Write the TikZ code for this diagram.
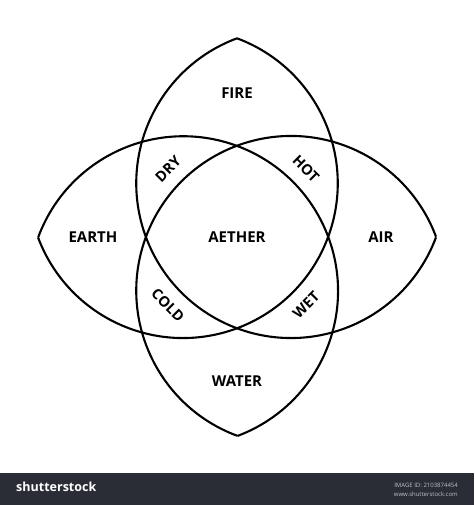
\documentclass[tikz,border=0pt]{standalone}
\usepackage{fontspec}
\setmainfont{Open Sans}
\definecolor{barbg}{RGB}{42,45,54}
\definecolor{bartxt}{RGB}{190,192,197}
\begin{document}
\begin{tikzpicture}[x=1pt,y=-1pt,
  ring/.style={draw=black,line width=2.1pt},
  lbl/.style={font=\fontsize{15}{18}\selectfont\bfseries,inner sep=0pt},
  smalllbl/.style={font=\fontsize{14.5}{17}\selectfont\bfseries,inner sep=0pt}]
\useasboundingbox (0,0) rectangle (474,505);
\fill[white] (0,0) rectangle (474,473);
\def\R{154.73}
% tips of the four lenses
\coordinate (top) at (237,38.3);
\coordinate (bot) at (237,435.7);
\coordinate (lft) at (38.3,237);
\coordinate (rgt) at (435.7,237);
% four circles, each drawn as its major arc between two tips
\draw[ring] (top) arc[start angle=249.57, end angle=20.43, radius=\R];
\draw[ring] (top) arc[start angle=-69.57, end angle=159.57, radius=\R];
\draw[ring] (lft) arc[start angle=200.43, end angle=429.57, radius=\R];
\draw[ring] (bot) arc[start angle=110.43, end angle=339.57, radius=\R];
% labels
\node[lbl] (fire) at (237,93) {FIRE};
\node[lbl] (earth) at (93,237) {EARTH};
\node[lbl] (aether) at (237,237) {AETHER};
\node[lbl] (air) at (381,237) {AIR};
\node[lbl] (water) at (237,381) {WATER};
\node[smalllbl,rotate=45] (dry) at (168,169) {DRY};
\node[smalllbl,rotate=-45] (hot) at (306,169) {HOT};
\node[smalllbl,rotate=-45] (cold) at (168,305) {COLD};
\node[smalllbl,rotate=45] (wet) at (306,305) {WET};
% bottom bar
\fill[barbg] (0,473) rectangle (474,505);
\node[anchor=west,text=white,inner sep=0pt,font=\fontsize{12.5}{14}\selectfont\bfseries] (logo) at (16,487) {shutterstock};
\node[anchor=east,text=bartxt,inner sep=0pt,font=\fontsize{6}{7}\selectfont] (imgid) at (458,485.5) {IMAGE ID: 2103874454};
\node[anchor=east,text=bartxt,inner sep=0pt,font=\fontsize{6}{7}\selectfont] (www) at (458,494) {www.shutterstock.com};
\end{tikzpicture}
\end{document}
